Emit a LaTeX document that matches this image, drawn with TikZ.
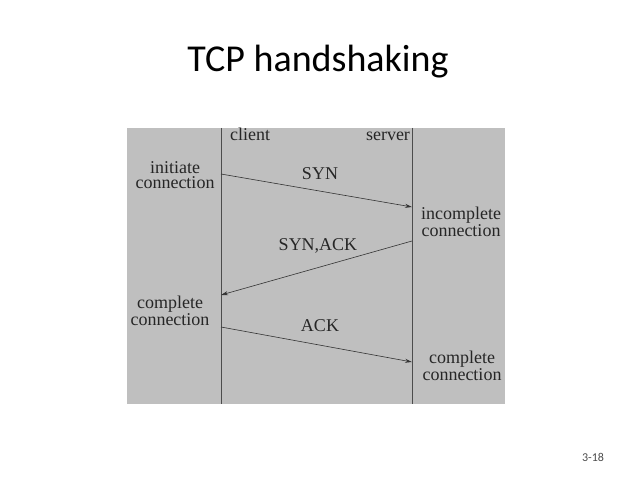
\documentclass[tikz,border=0pt]{standalone}
\usepackage{fontspec}
\setmainfont{Liberation Serif}
\newfontfamily\titlefont{Carlito}
\usetikzlibrary{arrows.meta}
\begin{document}
\begin{tikzpicture}[x=1pt,y=-1pt,
  lbl/.style={font=\fontsize{18}{15}\selectfont, align=center, inner sep=0pt, text=black!85},
  msg/.style={draw=black!80, line width=0.6pt, -{Stealth[length=7pt,width=4pt]}},
  life/.style={draw=black!70, line width=0.6pt}]
\useasboundingbox (0,0) rectangle (638,478);
\fill[white] (0,0) rectangle (638,478);
\node[font=\titlefont\fontsize{38}{38}\selectfont] (title) at (318,62) {TCP handshaking};
\fill[black!25] (127,128) rectangle (505,404);
\coordinate (ct) at (221,128); \coordinate (cb) at (221,404);
\coordinate (st) at (412,128); \coordinate (sb) at (412,404);
\draw[life] (ct) -- (cb);
\draw[life] (st) -- (sb);
\node[lbl, anchor=base] (client) at (250,141) {client};
\node[lbl, anchor=base] (server) at (388,141) {server};
\coordinate (a1) at (221,174); \coordinate (b1) at (412,207);
\coordinate (a2) at (412,241); \coordinate (b2) at (221,295);
\coordinate (a3) at (221,327); \coordinate (b3) at (412,362);
\draw[msg] (a1) -- (b1);
\draw[msg] (a2) -- (b2);
\draw[msg] (a3) -- (b3);
\node[lbl] (syn) at (320,174) {SYN};
\node[lbl] (synack) at (318,246) {SYN,ACK};
\node[lbl] (ack) at (320,326) {ACK};
\node[lbl] (ini) at (175,175) {initiate\\connection};
\node[lbl] (inc) at (461,222) {incomplete\\connection};
\node[lbl] (cc) at (170,311) {complete\\connection};
\node[lbl] (sc) at (462,366) {complete\\connection};
\node[font=\titlefont\fontsize{12}{12}\selectfont, text=black!70] (pg) at (593,457) {3-18};
\end{tikzpicture}
\end{document}
